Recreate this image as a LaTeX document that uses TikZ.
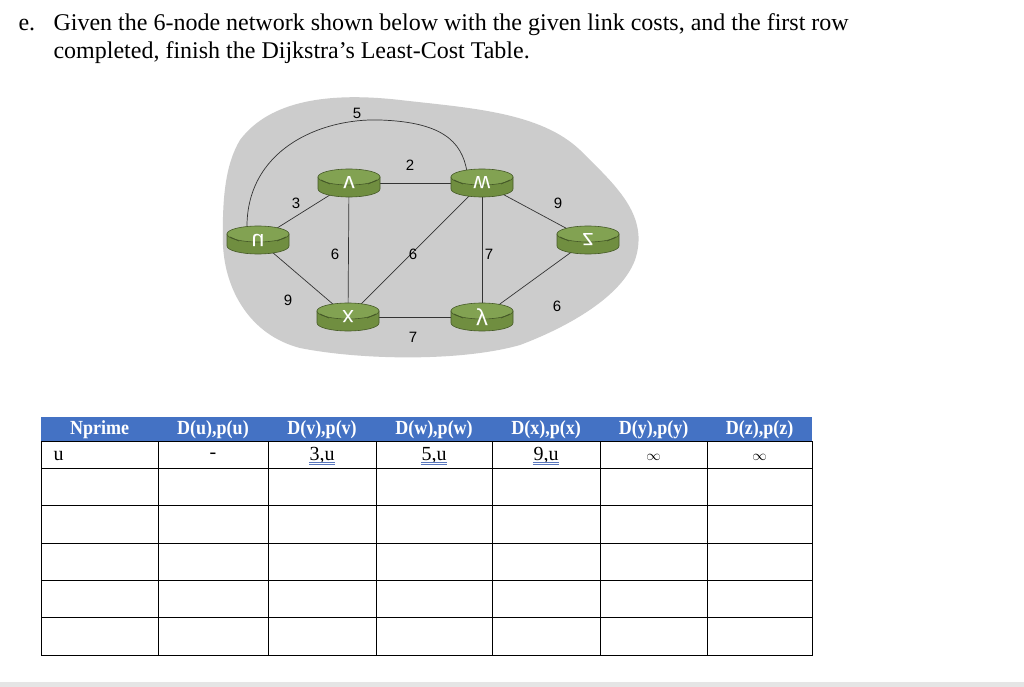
\documentclass[tikz,border=0pt]{standalone}
\usepackage{fontspec}
\setmainfont{Liberation Serif}
\newfontfamily\lsans{Liberation Sans}
\definecolor{rtop}{RGB}{130,162,82}
\definecolor{rbody}{RGB}{112,142,64}
\definecolor{redge}{RGB}{70,90,40}
\definecolor{hblue}{RGB}{68,114,196}
\definecolor{ulblue}{RGB}{90,120,190}
\begin{document}
\begin{tikzpicture}[x=1pt,y=-1pt,
  lbl/.style={font=\lsans\fontsize{15}{15}\selectfont},
  edge/.style={draw=black!80,line width=0.7pt},
  hd/.style={font=\bfseries\fontsize{20}{20}\selectfont,text=white,xscale=0.9},
  cell/.style={font=\fontsize{20}{20}\selectfont}]
\useasboundingbox (0,0) rectangle (1024,687);
\fill[white] (0,0) rectangle (1024,687);
\fill[black!10] (0,682) rectangle (1024,687);
% title
\node[anchor=west,font=\fontsize{24}{24}\selectfont] (e) at (15,25) {e.};
\node[anchor=west,font=\fontsize{24}{24}\selectfont] (t1) at (50,25) {Given the 6-node network shown below with the given link costs, and the first row};
\node[anchor=west,font=\fontsize{24}{24}\selectfont] (t2) at (50,53) {completed, finish the Dijkstra’s Least-Cost Table.};
% blob
\fill[black!20] (240,140) .. controls (270,100) and (330,92) .. (400,100)
  .. controls (470,108) and (540,112) .. (580,150)
  .. controls (615,185) and (650,215) .. (635,260)
  .. controls (620,300) and (560,330) .. (520,345)
  .. controls (460,362) and (360,360) .. (300,348)
  .. controls (250,335) and (225,290) .. (223,245)
  .. controls (222,200) and (225,165) .. (240,140) -- cycle;
% node coordinates
\coordinate (u) at (258,240);
\coordinate (v) at (349,183);
\coordinate (w) at (482,183);
\coordinate (z) at (588,240);
\coordinate (x) at (348,317);
\coordinate (y) at (482,317);
% edges
\draw[edge] (u) -- (v);
\draw[edge] (u) -- (x);
\draw[edge] (v) -- (w);
\draw[edge] (v) -- (x);
\draw[edge] (x) -- (w);
\draw[edge] (w) -- (y);
\draw[edge] (x) -- (y);
\draw[edge] (w) -- (z);
\draw[edge] (y) -- (z);
\draw[edge] (247,230) .. controls (245,150) and (320,118) .. (380,120) .. controls (440,122) and (462,140) .. (467,172);
% labels
\node[lbl] (l1) at (357,113) {5};
\node[lbl] (l2) at (410,165) {2};
\node[lbl] (l3) at (296,203) {3};
\node[lbl] (l4) at (558,203) {9};
\node[lbl] (l5) at (335,254) {6};
\node[lbl] (l6) at (413,254) {6};
\node[lbl] (l7) at (489,254) {7};
\node[lbl] (l8) at (288,300) {9};
\node[lbl] (l9) at (557,306) {6};
\node[lbl] (l10) at (413,337) {7};
% routers
\foreach \n in {u,v,w,z,x,y}{
  \begin{scope}[shift={(\n)},yscale=-1]
    \filldraw[fill=rbody,draw=redge,line width=0.6pt]
      (-31,6) -- (-31,-6) arc[start angle=180,end angle=360,x radius=31,y radius=8] -- (31,6) -- cycle;
    \filldraw[fill=rtop,draw=redge,line width=0.6pt] (0,6) ellipse[x radius=31,y radius=8];
    \draw[redge,line width=0.8pt] (-28,3) -- (-19,-1) (19,-1) -- (28,3);
    \node[font=\lsans\fontsize{23}{23}\selectfont,text=white,yscale=-1] at (0,0) {\n};
  \end{scope}}
% table
\fill[hblue] (41,417) rectangle (812,441);
\foreach \c/\t in {99.5/Nprime,213/{D(u),p(u)},322/{D(v),p(v)},434/{D(w),p(w)},546/{D(x),p(x)},653.5/{D(y),p(y)},759.5/{D(z),p(z)}}
  \node[hd] at (\c,430) {\t};
\draw[black,line width=0.6pt] (41,441) rectangle (812,655);
\foreach \yy in {468,505,543,580,617} \draw[black,line width=0.6pt] (41,\yy) -- (812,\yy);
\foreach \xx in {158,268,376,492,600,707} \draw[black,line width=0.6pt] (\xx,441) -- (\xx,655);
\node[cell,anchor=west] (c1) at (50,456) {u};
\node[cell] (c2) at (213,456) {-};
\node[cell] (c3) at (322,455) {3,u};
\node[cell] (c4) at (434,455) {5,u};
\node[cell] (c5) at (546,455) {9,u};
\node[cell,font=\fontsize{15}{15}\selectfont] (c6) at (653.5,457) {$\infty$};
\node[cell,font=\fontsize{15}{15}\selectfont] (c7) at (759.5,457) {$\infty$};
\foreach \c in {c3,c4,c5}
  \draw[ulblue,line width=0.5pt] ([xshift=3pt,yshift=4pt]\c.south west) -- ([xshift=-3pt,yshift=4pt]\c.south east)
    ([xshift=3pt,yshift=2pt]\c.south west) -- ([xshift=-3pt,yshift=2pt]\c.south east);
\end{tikzpicture}
\end{document}
